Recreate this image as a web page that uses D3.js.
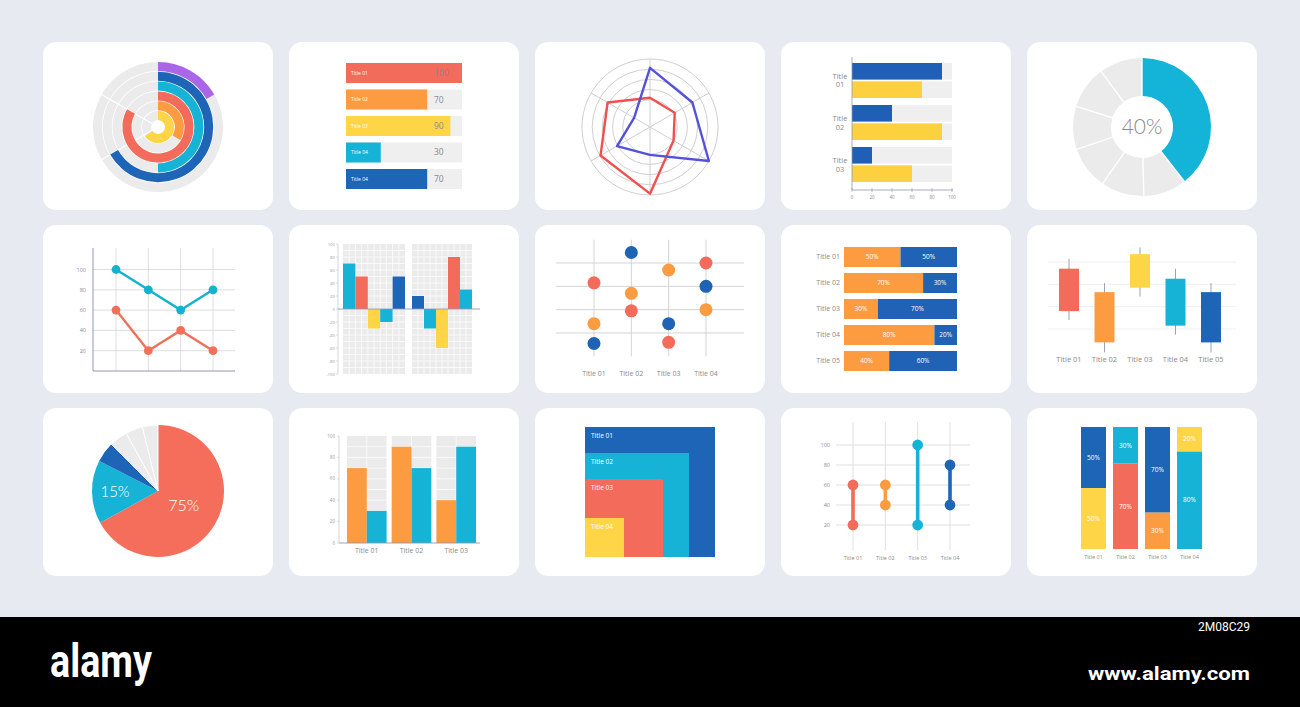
<!DOCTYPE html>
<html><head><meta charset="utf-8">
<script src="https://cdn.jsdelivr.net/npm/d3@7"></script>
<style>html,body{margin:0;padding:0;background:#e8eaf2;} svg{display:block;font-family:"Open Sans",Lato,sans-serif;}</style>
</head><body><svg id="c" width="1300" height="707"></svg>
<script>
// ---------- data ----------
const radialSeries = ["purple","blue","cyan","coral","orange","yellow"];
const radialDegrees = [60,240,180,300,120,235];

const hbarLabels = ["Title 01","Title 02","Title 03","Title 04","Title 04"];
const hbarValues = [100,70,90,30,70];
const hbarColors = ["coral","orange","yellow","cyan","blue"];

const radarBlue = [87,72,100,41,56,27];
const radarRed = [43,42,40,98,84,72];
const radarLevels = [40,55,70,85,100];

const pairGroups = ["01","02","03"];
const pairBlue = [90,40,20];
const pairYellow = [70,90,60];
const pairTicks = [0,20,40,60,80,100];

const donutValue = 40;
const donutRest = [10,10,10,10,10,10];
const donutLabel = "40%";

const lineSteps = [1,2,3,4];
const lineCyan = [100,80,60,80];
const lineRed = [60,20,40,20];
const lineTicks = [20,40,60,80,100];

const pnTicks = [100,80,60,40,20,0,-20,-40,-60,-80,-100];
const pnGroupA = [70,50,-30,-20,50];
const pnGroupB = [20,-30,-60,80,30];
const pnColorsA = ["cyan","coral","yellow","cyan","blue"];
const pnColorsB = ["blue","cyan","yellow","coral","cyan"];

const dotCats = ["Title 01","Title 02","Title 03","Title 04"];
const dotCoral = [63,39,12,80];
const dotOrange = [28,54,74,40];
const dotBlue = [11,89,28,60];
const dotGrid = [20,40,60,80];

const shareCats = ["Title 01","Title 02","Title 03","Title 04","Title 05"];
const shareOrange = [50,70,30,80,40];
const shareBlue = [50,30,70,20,60];

const candleCats = ["Title 01","Title 02","Title 03","Title 04","Title 05"];
const candleHigh = [93,71,103,84,71];
const candleTop = [84,63,97,75,63];
const candleBottom = [46,18,67,33,18];
const candleLow = [38,9,59,25,9];
const candleGrid = [30,50,70,90];
const candleColors = ["coral","orange","yellow","cyan","blue"];

const pieValues = [67,15.5,5,4.5,4.2,3.8];
const pieColors = ["coral","cyan","blue","gray","gray","gray"];
const pieLabels = ["75%","15%","","","",""];

const gbCats = ["Title 01","Title 02","Title 03"];
const gbOrange = [70,90,40];
const gbCyan = [30,70,90];
const gbTicks = [0,20,40,60,80,100];

const nestLabels = ["Title 01","Title 02","Title 03","Title 04"];
const nestValues = [100,80,60,30];
const nestColors = ["blue","cyan","coral","yellow"];

const dumbCats = ["Title 01","Title 02","Title 03","Title 04"];
const dumbHigh = [60,60,100,80];
const dumbLow = [20,40,20,40];
const dumbTicks = [20,40,60,80,100];
const dumbColors = ["coral","orange","cyan","blue"];

const vsCats = ["Title 01","Title 02","Title 03","Title 04"];
const vsTop = [50,30,70,20];
const vsBottom = [50,70,30,80];
const vsTopColors = ["blue","cyan","blue","yellow"];
const vsBottomColors = ["yellow","coral","orange","cyan"];

// ---------- style ----------
const C = {coral:"#f36b5a", orange:"#fd9b40", yellow:"#fed546", cyan:"#17b3d6", blue:"#1e64b7",
           purple:"#ab66e8", gray:"#ebebeb", text:"#8a8a8a", axis:"#9196b3", grid:"#dadada"};

const svg = d3.select("#c");
svg.append("rect").attr("width",1300).attr("height",707).attr("fill","#e8eaf2");

function panel(col,row){
  const g = svg.append("g").attr("transform",`translate(${43+246*col},${42+183*row})`);
  g.append("rect").attr("width",230).attr("height",168).attr("rx",13).attr("fill","#fff");
  return g;
}
function txt(g,x,y,s,size,fill,anchor,weight){
  return g.append("text").attr("x",x).attr("y",y).text(s).attr("font-size",size)
    .attr("fill",fill||C.text).attr("text-anchor",anchor||"start").attr("font-weight",weight||400);
}

// ---------- Panel 1 : radial bars ----------
{
  const g = panel(0,0).append("g").attr("transform","translate(115,85)");
  const ring = d3.scaleBand().domain(radialSeries).range([65,7]).paddingInner(0.08);
  const ang = d3.scaleLinear().domain([0,360]).range([0,2*Math.PI]);
  const bw = ring.bandwidth();
  radialSeries.forEach((s,i)=>{
    const a = d3.arc().innerRadius(ring(s)).outerRadius(ring(s)+bw).startAngle(0);
    g.append("path").attr("d",a.endAngle(2*Math.PI)()).attr("fill",C.gray);
  });
  [ang(300),ang(240)].forEach(t=>{
    g.append("line").attr("x1",0).attr("y1",0).attr("x2",70*Math.sin(t)).attr("y2",-70*Math.cos(t))
      .attr("stroke","#fff").attr("stroke-width",1.2);
  });
  radialSeries.forEach((s,i)=>{
    const a = d3.arc().innerRadius(ring(s)).outerRadius(ring(s)+bw).startAngle(0).endAngle(ang(radialDegrees[i]));
    g.append("path").attr("d",a()).attr("fill",C[s]);
  });
}

// ---------- Panel 2 : horizontal progress bars ----------
{
  const g = panel(1,0);
  const x = d3.scaleLinear().domain([0,100]).range([57,173]);
  const y = d3.scaleBand().domain(d3.range(hbarValues.length)).range([21,147]).paddingInner(0.245);
  hbarValues.forEach((v,i)=>{
    g.append("rect").attr("x",x(0)).attr("y",y(i)).attr("width",x(100)-x(0)).attr("height",y.bandwidth()).attr("fill","#efefef");
    g.append("rect").attr("x",x(0)).attr("y",y(i)).attr("width",x(v)-x(0)).attr("height",y.bandwidth()).attr("fill",C[hbarColors[i]]);
    txt(g,x(0)+5,y(i)+y.bandwidth()/2+1.8,hbarLabels[i],5,"#fff");
    txt(g,145,y(i)+y.bandwidth()/2+3,String(v),8.5,"#8a8a8a");
  });
}

// ---------- Panel 3 : radar ----------
{
  const g = panel(2,0).append("g").attr("transform","translate(115,85)");
  const r = d3.scaleLinear().domain([0,100]).range([0,68]);
  const a = i => i*Math.PI/3;
  radarLevels.forEach(l=>g.append("circle").attr("r",r(l)).attr("fill","none").attr("stroke","#cfcfcf").attr("stroke-width",1));
  d3.range(6).forEach(i=>{
    g.append("line").attr("x1",0).attr("y1",0).attr("x2",r(100)*Math.sin(a(i))).attr("y2",-r(100)*Math.cos(a(i)))
      .attr("stroke","#cfcfcf").attr("stroke-width",1);
  });
  const line = d3.line().x((v,i)=>r(v)*Math.sin(a(i))).y((v,i)=>-r(v)*Math.cos(a(i))).curve(d3.curveLinearClosed);
  g.append("path").attr("d",line(radarRed)).attr("fill","none").attr("stroke","#f0504f").attr("stroke-width",2.4).attr("stroke-linejoin","round");
  g.append("path").attr("d",line(radarBlue)).attr("fill","none").attr("stroke","#5552d9").attr("stroke-width",2.4).attr("stroke-linejoin","round");
}

// ---------- Panel 4 : paired horizontal bars ----------
{
  const g = panel(3,0);
  const x = d3.scaleLinear().domain([0,100]).range([71,171]);
  const y = d3.scaleBand().domain(pairGroups).range([21,140]).paddingInner(0.1667);
  const inner = d3.scaleBand().domain(["b","y"]).range([0,y.bandwidth()]).paddingInner(0.1);
  pairGroups.forEach((k,i)=>{
    [["b",pairBlue[i],"#1f5fb5"],["y",pairYellow[i],"#fdd040"]].forEach(([s,v,col])=>{
      const yy = y(k)+inner(s);
      g.append("rect").attr("x",x(0)).attr("y",yy).attr("width",x(100)-x(0)).attr("height",inner.bandwidth()).attr("fill","#efefef");
      g.append("rect").attr("x",x(0)).attr("y",yy).attr("width",x(v)-x(0)).attr("height",inner.bandwidth()).attr("fill",col);
    });
    const cy = y(k)+y.bandwidth()/2;
    txt(g,59,cy-1.5,"Title",7.5,C.text,"middle");
    txt(g,59,cy+7,k,7.5,C.text,"middle");
  });
  g.append("line").attr("x1",x(0)).attr("x2",x(0)).attr("y1",15).attr("y2",148).attr("stroke",C.axis).attr("stroke-width",0.8);
  g.append("line").attr("x1",x(0)).attr("x2",x(100)+1).attr("y1",148).attr("y2",148).attr("stroke",C.axis).attr("stroke-width",0.8);
  pairTicks.forEach(t=>{
    g.append("line").attr("x1",x(t)).attr("x2",x(t)).attr("y1",146).attr("y2",150).attr("stroke",C.axis).attr("stroke-width",0.6);
    txt(g,x(t),156.5,String(t),4.5,C.text,"middle");
  });
}

// ---------- Panel 5 : donut ----------
{
  const g = panel(4,0).append("g").attr("transform","translate(115,85)");
  const pie = d3.pie().sort(null).padAngle(0.018);
  const arcs = pie([donutValue].concat(donutRest));
  const arc = d3.arc().innerRadius(31).outerRadius(69);
  arcs.forEach((d,i)=>g.append("path").attr("d",arc(d)).attr("fill",i===0?"#13b4d7":C.gray));
  g.append("text").attr("y",7).attr("text-anchor","middle").attr("font-family","Lato").attr("font-weight",300)
    .attr("font-size",21).attr("fill","#8a8a8a").text(donutLabel);
}

// ---------- Panel 6 : line chart ----------
{
  const g = panel(0,1);
  const x = d3.scaleLinear().domain([1,4]).range([73,170]);
  const y = d3.scaleLinear().domain([0,100]).range([146,44.5]);
  lineTicks.forEach(t=>{
    g.append("line").attr("x1",50).attr("x2",192).attr("y1",y(t)).attr("y2",y(t)).attr("stroke",C.grid).attr("stroke-width",0.9);
    txt(g,43,y(t)+2,String(t),5.5,C.text,"end");
  });
  lineSteps.forEach(s=>g.append("line").attr("x1",x(s)).attr("x2",x(s)).attr("y1",23).attr("y2",146).attr("stroke",C.grid).attr("stroke-width",0.9));
  g.append("line").attr("x1",50).attr("x2",50).attr("y1",23).attr("y2",146).attr("stroke",C.axis).attr("stroke-width",1);
  g.append("line").attr("x1",50).attr("x2",192).attr("y1",146).attr("y2",146).attr("stroke",C.axis).attr("stroke-width",1);
  const line = d3.line().x((v,i)=>x(lineSteps[i])).y(v=>y(v));
  [[lineCyan,"#15b2cf"],[lineRed,"#f0705a"]].forEach(([vals,col])=>{
    g.append("path").attr("d",line(vals)).attr("fill","none").attr("stroke",col).attr("stroke-width",2.4);
    vals.forEach((v,i)=>g.append("circle").attr("cx",x(lineSteps[i])).attr("cy",y(v)).attr("r",4.4).attr("fill",col));
  });
}

// ---------- Panel 7 : positive / negative bars ----------
{
  const g = panel(1,1);
  const y = d3.scaleLinear().domain([-100,100]).range([149,19]);
  const xa = d3.scaleBand().domain(d3.range(5)).range([54,116]);
  const xb = d3.scaleBand().domain(d3.range(5)).range([123,183]);
  [[xa,pnGroupA,pnColorsA],[xb,pnGroupB,pnColorsB]].forEach(([x,vals,cols])=>{
    const [x0,x1] = x.range();
    g.append("rect").attr("x",x0).attr("y",y(100)).attr("width",x1-x0).attr("height",y(-100)-y(100)).attr("fill","#ebebeb");
    d3.range(-90,100,10).forEach(t=>g.append("line").attr("x1",x0).attr("x2",x1).attr("y1",y(t)).attr("y2",y(t)).attr("stroke","#fff").attr("stroke-width",0.7));
    d3.range(1,10).forEach(k=>{const xx=x0+(x1-x0)*k/10; g.append("line").attr("x1",xx).attr("x2",xx).attr("y1",y(100)).attr("y2",y(-100)).attr("stroke","#fff").attr("stroke-width",0.7);});
    vals.forEach((v,i)=>{
      g.append("rect").attr("x",x(i)).attr("y",y(Math.max(0,v))).attr("width",x.bandwidth()).attr("height",Math.abs(y(v)-y(0))).attr("fill",C[cols[i]]);
    });
  });
  g.append("line").attr("x1",49).attr("x2",49).attr("y1",y(100)).attr("y2",y(-100)).attr("stroke","#c8c8d4").attr("stroke-width",0.8);
  pnTicks.forEach(t=>{
    g.append("line").attr("x1",47).attr("x2",49).attr("y1",y(t)).attr("y2",y(t)).attr("stroke","#c8c8d4").attr("stroke-width",0.6);
    txt(g,46,y(t)+1.6,String(t),4.3,"#999","end");
  });
  g.append("line").attr("x1",49).attr("x2",191).attr("y1",y(0)).attr("y2",y(0)).attr("stroke",C.axis).attr("stroke-width",0.9);
}

// ---------- Panel 8 : dot plot ----------
{
  const g = panel(2,1);
  const x = d3.scalePoint().domain(dotCats).range([59,171]);
  const y = d3.scaleLinear().domain([0,100]).range([131.3,14.7]);
  dotGrid.forEach(t=>g.append("line").attr("x1",21).attr("x2",209).attr("y1",y(t)).attr("y2",y(t)).attr("stroke","#d4d4d4").attr("stroke-width",1));
  dotCats.forEach(c=>{
    g.append("line").attr("x1",x(c)).attr("x2",x(c)).attr("y1",y(100)).attr("y2",y(0)).attr("stroke","#d4d4d4").attr("stroke-width",1);
    txt(g,x(c),150.5,c,7,C.text,"middle");
  });
  [[dotCoral,C.coral],[dotOrange,C.orange],[dotBlue,"#1f63b6"]].forEach(([vals,col])=>{
    vals.forEach((v,i)=>g.append("circle").attr("cx",x(dotCats[i])).attr("cy",y(v)).attr("r",6.5).attr("fill",col));
  });
}

// ---------- Panel 9 : 100% stacked horizontal ----------
{
  const g = panel(3,1);
  const x = d3.scaleLinear().domain([0,100]).range([63,176]);
  const y = d3.scaleBand().domain(shareCats).range([22,146]).paddingInner(0.23);
  shareCats.forEach((c,i)=>{
    const o = shareOrange[i], b = shareBlue[i], h = y.bandwidth();
    g.append("rect").attr("x",x(0)).attr("y",y(c)).attr("width",x(o)-x(0)).attr("height",h).attr("fill",C.orange);
    g.append("rect").attr("x",x(o)).attr("y",y(c)).attr("width",x(o+b)-x(o)).attr("height",h).attr("fill","#1f62b6");
    txt(g,x(o/2),y(c)+h/2+2.3,o+"%",6.5,"#fff","middle");
    txt(g,x(o+b/2),y(c)+h/2+2.3,b+"%",6.5,"#fff","middle");
    txt(g,59,y(c)+h/2+2.4,c,7,C.text,"end");
  });
}

// ---------- Panel 10 : candlesticks ----------
{
  const g = panel(4,1);
  const x = d3.scalePoint().domain(candleCats).range([42,184]);
  const y = d3.scaleLinear().domain([0,100]).range([137.5,25.8]);
  candleGrid.forEach(t=>g.append("line").attr("x1",21).attr("x2",209).attr("y1",y(t)).attr("y2",y(t)).attr("stroke","#efefef").attr("stroke-width",1));
  candleCats.forEach((c,i)=>{
    g.append("line").attr("x1",x(c)).attr("x2",x(c)).attr("y1",y(candleHigh[i])).attr("y2",y(candleLow[i])).attr("stroke","#9ba3b8").attr("stroke-width",1);
    g.append("rect").attr("x",x(c)-10).attr("y",y(candleTop[i])).attr("width",20).attr("height",y(candleBottom[i])-y(candleTop[i])).attr("fill",C[candleColors[i]]);
    txt(g,x(c),137,c,7.5,C.text,"middle");
  });
}

// ---------- Panel 11 : pie ----------
{
  const g = panel(0,2).append("g").attr("transform","translate(115,83)");
  const arcs = d3.pie().sort(null)(pieValues);
  const arc = d3.arc().innerRadius(0).outerRadius(66);
  arcs.forEach((d,i)=>g.append("path").attr("d",arc(d)).attr("fill",pieColors[i]==="gray"?C.gray:(pieColors[i]==="coral"?"#f46e5b":C[pieColors[i]]))
    .attr("stroke","#fff").attr("stroke-width",pieColors[i]==="gray"?1:0));
  const labelR = [30,43];
  arcs.forEach((d,i)=>{
    if(!pieLabels[i]) return;
    const p = d3.arc().innerRadius(labelR[i]).outerRadius(labelR[i]).centroid(d);
    g.append("text").attr("x",p[0]).attr("y",p[1]+5).attr("text-anchor","middle").attr("font-family","Lato").attr("font-weight",300)
      .attr("font-size",i===0?16:15).attr("fill","#fff").text(pieLabels[i]);
  });
}

// ---------- Panel 12 : grouped vertical bars ----------
{
  const g = panel(1,2);
  const y = d3.scaleLinear().domain([0,100]).range([135,28]);
  const x = d3.scaleBand().domain(gbCats).range([58,187]).paddingInner(0.115);
  const inner = d3.scaleBand().domain(["o","c"]).range([0,x.bandwidth()]);
  gbCats.forEach((c,i)=>{
    const x0 = x(c), w = x.bandwidth();
    g.append("rect").attr("x",x0).attr("y",y(100)).attr("width",w).attr("height",y(0)-y(100)).attr("fill","#ebebeb");
    d3.range(10,100,10).forEach(t=>g.append("line").attr("x1",x0).attr("x2",x0+w).attr("y1",y(t)).attr("y2",y(t)).attr("stroke","#fff").attr("stroke-width",0.7));
    g.append("line").attr("x1",x0+w/2).attr("x2",x0+w/2).attr("y1",y(100)).attr("y2",y(0)).attr("stroke","#fff").attr("stroke-width",0.7);
    g.append("rect").attr("x",x0+inner("o")).attr("y",y(gbOrange[i])).attr("width",inner.bandwidth()).attr("height",y(0)-y(gbOrange[i])).attr("fill",C.orange);
    g.append("rect").attr("x",x0+inner("c")).attr("y",y(gbCyan[i])).attr("width",inner.bandwidth()).attr("height",y(0)-y(gbCyan[i])).attr("fill",C.cyan);
    txt(g,x0+w/2,145,c,7,C.text,"middle");
  });
  g.append("line").attr("x1",50).attr("x2",50).attr("y1",y(100)).attr("y2",y(0)).attr("stroke","#c8c8d4").attr("stroke-width",0.8);
  g.append("line").attr("x1",50).attr("x2",191).attr("y1",y(0)).attr("y2",y(0)).attr("stroke",C.axis).attr("stroke-width",0.9);
  gbTicks.forEach(t=>{
    g.append("line").attr("x1",48).attr("x2",50).attr("y1",y(t)).attr("y2",y(t)).attr("stroke","#c8c8d4").attr("stroke-width",0.6);
    txt(g,46,y(t)+1.6,String(t),4.5,"#999","end");
  });
}

// ---------- Panel 13 : nested squares ----------
{
  const g = panel(2,2);
  const s = d3.scaleLinear().domain([0,100]).range([0,130]);
  nestValues.forEach((v,i)=>{
    g.append("rect").attr("x",50).attr("y",149-s(v)).attr("width",s(v)).attr("height",s(v)).attr("fill",C[nestColors[i]]);
    txt(g,56,149-s(v)+11,nestLabels[i],6.5,"#fff");
  });
}

// ---------- Panel 14 : dumbbell ----------
{
  const g = panel(3,2);
  const y = d3.scaleLinear().domain([0,100]).range([137,37]);
  const x = d3.scalePoint().domain(dumbCats).range([72,169]);
  dumbTicks.forEach(t=>{
    g.append("line").attr("x1",55).attr("x2",189).attr("y1",y(t)).attr("y2",y(t)).attr("stroke","#dcdcdc").attr("stroke-width",0.9);
    txt(g,49,y(t)+2,String(t),5.5,C.text,"end");
  });
  dumbCats.forEach((c,i)=>{
    g.append("line").attr("x1",x(c)).attr("x2",x(c)).attr("y1",14).attr("y2",142).attr("stroke","#dcdcdc").attr("stroke-width",0.9);
    const col = C[dumbColors[i]];
    g.append("line").attr("x1",x(c)).attr("x2",x(c)).attr("y1",y(dumbHigh[i])).attr("y2",y(dumbLow[i])).attr("stroke",col).attr("stroke-width",3.6);
    g.append("circle").attr("cx",x(c)).attr("cy",y(dumbHigh[i])).attr("r",5.4).attr("fill",col);
    g.append("circle").attr("cx",x(c)).attr("cy",y(dumbLow[i])).attr("r",5.4).attr("fill",col);
    txt(g,x(c),152,c,5.5,C.text,"middle");
  });
}

// ---------- Panel 15 : 100% stacked vertical ----------
{
  const g = panel(4,2);
  const y = d3.scaleLinear().domain([0,100]).range([141,19]);
  const x = d3.scaleBand().domain(vsCats).range([54,175]).paddingInner(0.219);
  vsCats.forEach((c,i)=>{
    const b = vsBottom[i], t = vsTop[i], w = x.bandwidth();
    g.append("rect").attr("x",x(c)).attr("y",y(b)).attr("width",w).attr("height",y(0)-y(b)).attr("fill",C[vsBottomColors[i]]);
    g.append("rect").attr("x",x(c)).attr("y",y(b+t)).attr("width",w).attr("height",y(b)-y(b+t)).attr("fill",C[vsTopColors[i]]);
    txt(g,x(c)+w/2,y(b/2)+2.2,b+"%",6.5,"#fff","middle");
    txt(g,x(c)+w/2,y(b+t/2)+2.2,t+"%",6.5,"#fff","middle");
    txt(g,x(c)+w/2,151,c,5.5,C.text,"middle");
  });
}

// ---------- bottom bar ----------
svg.append("rect").attr("x",0).attr("y",617).attr("width",1300).attr("height",90).attr("fill","#000");
svg.append("text").attr("x",50).attr("y",677).attr("font-family","Roboto").attr("font-weight",700).attr("font-size",46)
  .attr("textLength",102).attr("lengthAdjust","spacingAndGlyphs").attr("fill","#fff").text("alamy");
svg.append("text").attr("x",1088).attr("y",680).attr("font-family","Roboto").attr("font-weight",700).attr("font-size",19)
  .attr("textLength",162).attr("lengthAdjust","spacingAndGlyphs").attr("fill","#fff").text("www.alamy.com");
svg.append("text").attr("x",1250).attr("y",631).attr("text-anchor","end").attr("font-family","Roboto").attr("font-size",12)
  .attr("fill","#fff").text("2M08C29");
</script></body></html>
